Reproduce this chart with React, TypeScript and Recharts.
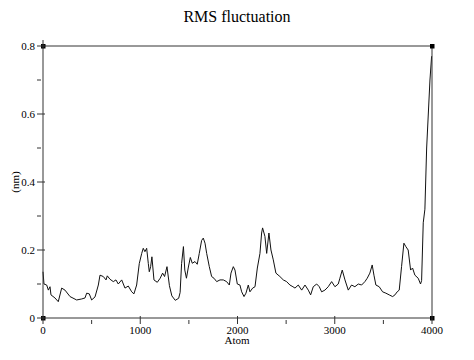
import { ComposedChart, Line, XAxis, YAxis, ReferenceDot } from "recharts"

// RMSF per atom
const atoms = [
  0, 10, 38, 55, 72, 82, 123, 157, 192, 226, 278, 346, 398, 432, 449, 476, 500, 535, 569, 586,
  620, 648, 661, 689, 723, 750, 774, 809, 843, 877, 912, 935, 963, 990, 1015, 1031, 1048, 1066, 1083, 1093,
  1107, 1120, 1141, 1175, 1205, 1230, 1250, 1275, 1300, 1325, 1360, 1395, 1410, 1425, 1444, 1458, 1475, 1495, 1515, 1535,
  1563, 1586, 1607, 1631, 1648, 1666, 1683, 1710, 1734, 1758, 1786, 1820, 1854, 1888, 1916, 1933, 1957, 1974, 1998, 2025,
  2043, 2067, 2087, 2111, 2128, 2156, 2180, 2204, 2231, 2248, 2258, 2282, 2300, 2323, 2344, 2368, 2395, 2436, 2471, 2505,
  2539, 2570, 2591, 2625, 2660, 2694, 2728, 2752, 2779, 2814, 2841, 2865, 2899, 2933, 2968, 3002, 3036, 3053, 3077, 3105,
  3139, 3173, 3207, 3242, 3276, 3310, 3334, 3361, 3385, 3403, 3423, 3457, 3492, 3526, 3560, 3595, 3619, 3642, 3663, 3687,
  3711, 3731, 3755, 3780, 3800, 3824, 3858, 3882, 3893, 3910, 3927, 3945, 3962, 3979, 3996,
]
const rmsf = [
  0.136, 0.1, 0.097, 0.082, 0.092, 0.068, 0.059, 0.048, 0.088, 0.082, 0.063, 0.053, 0.056, 0.059, 0.073, 0.071, 0.053, 0.062, 0.097, 0.126,
  0.122, 0.112, 0.124, 0.114, 0.107, 0.112, 0.1, 0.112, 0.088, 0.094, 0.077, 0.071, 0.097, 0.16, 0.19, 0.205, 0.195, 0.205, 0.16, 0.136,
  0.151, 0.18, 0.112, 0.105, 0.117, 0.132, 0.122, 0.151, 0.095, 0.065, 0.052, 0.058, 0.075, 0.16, 0.21, 0.141, 0.117, 0.15, 0.178, 0.161,
  0.166, 0.158, 0.19, 0.228, 0.235, 0.22, 0.19, 0.151, 0.122, 0.117, 0.107, 0.112, 0.112, 0.107, 0.097, 0.132, 0.151, 0.141, 0.1, 0.097,
  0.077, 0.063, 0.073, 0.097, 0.077, 0.088, 0.092, 0.147, 0.19, 0.25, 0.265, 0.24, 0.19, 0.25, 0.2, 0.171, 0.132, 0.122, 0.112, 0.107,
  0.097, 0.092, 0.088, 0.097, 0.082, 0.097, 0.082, 0.068, 0.092, 0.1, 0.092, 0.077, 0.082, 0.092, 0.107, 0.092, 0.1, 0.117, 0.141, 0.112,
  0.082, 0.097, 0.092, 0.1, 0.097, 0.107, 0.117, 0.132, 0.156, 0.126, 0.097, 0.092, 0.077, 0.073, 0.068, 0.063, 0.068, 0.077, 0.082, 0.151,
  0.22, 0.21, 0.2, 0.141, 0.147, 0.126, 0.117, 0.1, 0.11, 0.28, 0.32, 0.5, 0.6, 0.7, 0.77,
]

const xTicks = [0, 500, 1000, 1500, 2000, 2500, 3000, 3500, 4000]
const yTicks = [0, 0.1, 0.2, 0.3, 0.4, 0.5, 0.6, 0.7, 0.8]

const cornerAtoms = [0, 0, 4000, 4000]
const cornerValues = [0, 0.8, 0, 0.8]

const data = atoms.map((atom, i) => ({ atom, rmsf: rmsf[i] }))

const font = '"Liberation Serif", "DejaVu Serif", serif'
const frame = "#333"

const isMajorX = (v: number) => v % 1000 === 0
const isMajorY = (v: number) => Math.round(v * 10) % 2 === 0
const fmtY = (v: number) => (v === 0 ? "0" : v.toFixed(1))

const labelStyle = { fontFamily: font, fontSize: 11 }

// tick marks point inward, like xmgrace
function BottomTick({ x, y, payload }: any) {
  const major = isMajorX(payload.value)
  return (
    <g>
      <line x1={x} y1={y} x2={x} y2={y - (major ? 8 : 4)} stroke={frame} />
      {major && (
        <text x={x} y={y + 10} textAnchor="middle" style={labelStyle} fill="#000">
          {payload.value}
        </text>
      )}
    </g>
  )
}

function TopTick({ x, y, payload }: any) {
  const major = isMajorX(payload.value)
  return <line x1={x} y1={y} x2={x} y2={y + (major ? 8 : 4)} stroke={frame} />
}

function LeftTick({ x, y, payload }: any) {
  const major = isMajorY(payload.value)
  return (
    <g>
      <line x1={x} y1={y} x2={x + (major ? 8 : 4)} y2={y} stroke={frame} />
      {major && (
        <text x={x - 2} y={y} dy="0.35em" textAnchor="end" style={labelStyle} fill="#000">
          {fmtY(payload.value)}
        </text>
      )}
    </g>
  )
}

function RightTick({ x, y, payload }: any) {
  const major = isMajorY(payload.value)
  return <line x1={x} y1={y} x2={x - (major ? 8 : 4)} y2={y} stroke={frame} />
}

const CornerMark = ({ cx, cy }: any) => <rect x={cx - 2} y={cy - 2} width={4.5} height={4.5} fill="#000" />

export default function App() {
  return (
    <div style={{ position: "absolute", left: 0, top: 0, width: 474, height: 360, background: "#fff", fontFamily: font }}>
      <div style={{ position: "absolute", left: 0, width: 474, top: 8, textAlign: "center", fontSize: 16 }}>
        RMS fluctuation
      </div>
      <div style={{ position: "absolute", left: 187, width: 100, top: 335, textAlign: "center", fontSize: 11, lineHeight: "11px" }}>
        Atom
      </div>
      <div
        style={{
          position: "absolute",
          left: -5,
          top: 176,
          width: 40,
          textAlign: "center",
          fontSize: 11,
          lineHeight: "12px",
          transform: "rotate(-90deg)",
        }}
      >
        (nm)
      </div>
      <ComposedChart width={474} height={360} data={data} margin={{ top: 45, right: 41, bottom: 12, left: 13 }}>
        <XAxis
          xAxisId="x"
          dataKey="atom"
          type="number"
          domain={[0, 4000]}
          ticks={xTicks}
          interval={0}
          tickLine={false}
          tickMargin={0}
          tick={<BottomTick />}
          axisLine={{ stroke: frame }}
          height={30}
        />
        <XAxis
          xAxisId="top"
          orientation="top"
          type="number"
          domain={[0, 4000]}
          ticks={xTicks}
          interval={0}
          tickLine={false}
          tickMargin={0}
          tick={<TopTick />}
          axisLine={{ stroke: frame }}
          height={1}
        />
        <YAxis
          yAxisId="y"
          type="number"
          domain={[0, 0.8]}
          ticks={yTicks}
          interval={0}
          tickLine={false}
          tickMargin={0}
          tick={<LeftTick />}
          axisLine={{ stroke: frame }}
          width={30}
        />
        <YAxis
          yAxisId="right"
          orientation="right"
          type="number"
          domain={[0, 0.8]}
          ticks={yTicks}
          interval={0}
          tickLine={false}
          tickMargin={0}
          tick={<RightTick />}
          axisLine={{ stroke: frame }}
          width={1}
        />
        <Line
          xAxisId="x"
          yAxisId="y"
          type="linear"
          dataKey="rmsf"
          stroke="#111"
          strokeWidth={1}
          dot={false}
          isAnimationActive={false}
        />
        {cornerAtoms.map((a, i) => (
          <ReferenceDot
            key={i}
            xAxisId="x"
            yAxisId="y"
            x={a}
            y={cornerValues[i]}
            r={2}
            ifOverflow="visible"
            shape={<CornerMark />}
          />
        ))}
      </ComposedChart>
    </div>
  )
}
